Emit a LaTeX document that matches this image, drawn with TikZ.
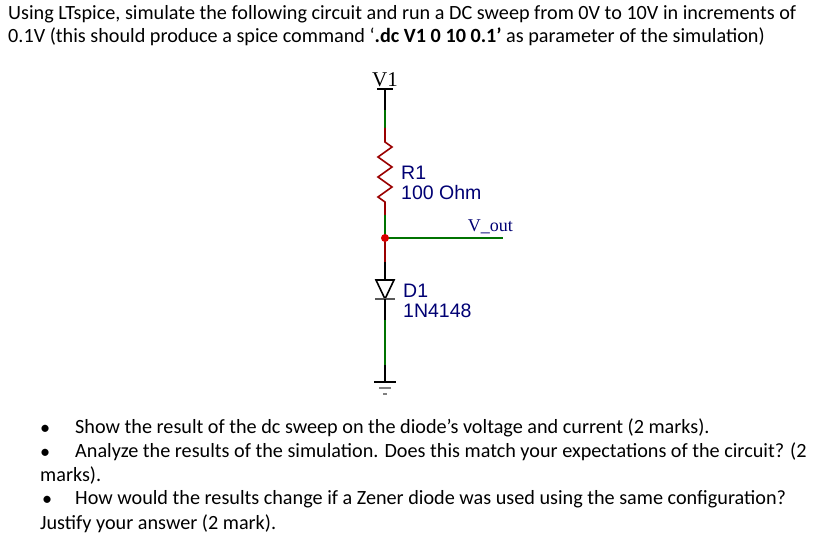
\documentclass[tikz,border=0pt]{standalone}
\usepackage{fontspec}
\setmainfont{Carlito}
\newfontfamily\arl{Liberation Sans}
\newfontfamily\tms{Liberation Serif}
\begin{document}
\begin{tikzpicture}[x=1pt,y=-1pt,
  txt/.style={anchor=west,inner sep=0,font=\fontsize{20.2}{22}\selectfont},
  lbl/.style={anchor=west,inner sep=0,text=blue!45!black,font=\arl\fontsize{19.5}{20}\selectfont},
  wg/.style={draw=green!45!black,line width=1.6},
  wr/.style={draw=red!60!black,line width=1.6},
  wk/.style={draw=black,line width=1.6}]
\useasboundingbox (0,0) rectangle (821,548);
\node[txt] (l1) at (8,14) {Using LTspice, simulate the following circuit and run a DC sweep from 0V to 10V in increments of};
\node[txt] (l2) at (8,37) {0.1V (this should produce a spice command ‘\textbf{.dc V1 0 10 0.1’} as parameter of the simulation)};
% circuit
\node[anchor=south,inner sep=0,font=\tms\fontsize{21}{21}\selectfont] (v1) at (385,87) {V1};
\coordinate (vt) at (385,89);
\coordinate (rt) at (385,142);
\coordinate (rb) at (385,207);
\coordinate (n) at (385,238);
\coordinate (vo) at (503,238);
\coordinate (dt) at (385,280);
\coordinate (db) at (385,299);
\coordinate (g) at (385,382);
\draw[wk] (377,89) -- (393,89);
\draw[wk] (vt) -- (385,110);
\draw[wg] (385,110) -- (385,128);
\draw[wr] (385,128) -- (rt) -- (392,147) -- (378,157) -- (392,167) -- (378,177) -- (392,187) -- (378,197) -- (385,202) -- (rb) -- (385,215);
\draw[wg] (385,215) -- (n);
\draw[wg] (n) -- (vo);
\draw[wr] (n) -- (385,262);
\draw[wk] (385,262) -- (dt);
\draw[wk] (376,280) -- (394,280) -- (385,299) -- cycle;
\draw[draw=gray!70!black,line width=1.6] (375,299) -- (395,299);
\draw[wk] (db) -- (385,320);
\draw[wg] (385,320) -- (385,365);
\draw[wk] (385,365) -- (g);
\draw[wk] (374,382) -- (396,382);
\draw[draw=gray,line width=1.6] (379,388) -- (391,388);
\draw[draw=gray,line width=1.6] (383,394) -- (387,394);
\fill[red!85!black] (n) circle (4);
\node[lbl] (r1) at (401,173) {R1};
\node[lbl] (r1v) at (401,193) {100 Ohm};
\node[anchor=south east,inner sep=0,text=blue!45!black,font=\tms\fontsize{18}{18}\selectfont] (vol) at (513,234) {V\_out};
\node[lbl] (d1) at (403,291) {D1};
\node[lbl] (d1v) at (403,311) {1N4148};
% bullets
\node[txt] (b1) at (40,430) {•};
\node[txt] (t1) at (75,428) {Show the result of the dc sweep on the diode’s voltage and current (2 marks).};
\node[txt] (b2) at (40,454) {•};
\node[txt] (t2) at (75,452) {Analyze the results of the simulation. Does this match your expectations of the circuit? (2};
\node[txt] (t2b) at (40,476) {marks).};
\node[txt] (b3) at (42,501) {•};
\node[txt] (t3) at (75,499) {How would the results change if a Zener diode was used using the same configuration?};
\node[txt] (t3b) at (40,524) {Justify your answer (2 mark).};
\end{tikzpicture}
\end{document}
